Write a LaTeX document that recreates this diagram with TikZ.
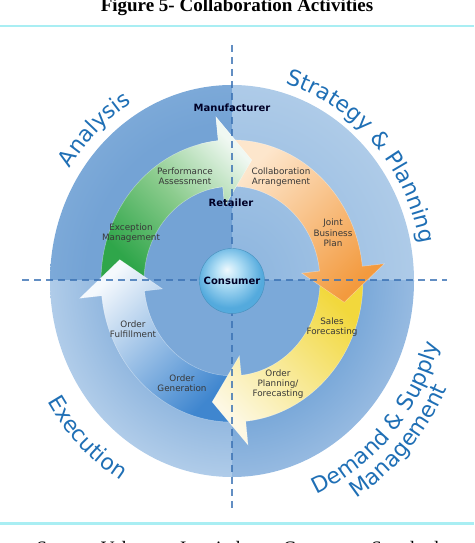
\documentclass[tikz,border=0pt]{standalone}
\usepackage{fontspec}
\setmainfont{Liberation Serif}
\newfontfamily\diagfont{DejaVu Sans}
\usetikzlibrary{decorations.text,positioning}

\definecolor{rulecyan}{HTML}{A9EEF3}
\definecolor{dashblue}{HTML}{3B72B4}
\definecolor{phaseblue}{HTML}{1F6FB5}
\definecolor{tlbase}{HTML}{74A3D5}
\definecolor{tlrim}{HTML}{7CA9D8}
\definecolor{trbase}{HTML}{8BB4DE}
\definecolor{trrim}{HTML}{AECBE8}
\definecolor{blbase}{HTML}{7BA8D8}
\definecolor{blrim}{HTML}{B0CCE9}
\definecolor{brbase}{HTML}{7BA9D9}
\definecolor{brrim}{HTML}{96BAE1}
\definecolor{greendk}{HTML}{2FA64A}
\definecolor{greenmd}{HTML}{8ACB8C}
\definecolor{greenlt}{HTML}{F0F8F2}
\definecolor{orangelt}{HTML}{FDE6CC}
\definecolor{orangedk}{HTML}{F39A3E}
\definecolor{yellowdk}{HTML}{F2D83C}
\definecolor{yellowlt}{HTML}{FDF8E4}
\definecolor{bluedk}{HTML}{3F86CF}
\definecolor{bluelt}{HTML}{F5F9FD}
\definecolor{ballhi}{HTML}{EEF8FD}
\definecolor{ballmid}{HTML}{B4E0F6}
\definecolor{ballrim}{HTML}{54AADD}

\pgfdeclareradialshading{quadtl}{\pgfpoint{0bp}{0bp}}{color(0bp)=(tlbase); color(20bp)=(tlbase); color(25bp)=(tlrim); color(50bp)=(tlrim)}
\pgfdeclareradialshading{quadtr}{\pgfpoint{0bp}{0bp}}{color(0bp)=(trbase); color(25bp)=(trrim); color(50bp)=(trrim)}
\pgfdeclareradialshading{quadbl}{\pgfpoint{0bp}{0bp}}{color(0bp)=(blbase); color(12bp)=(blbase); color(25bp)=(blrim); color(50bp)=(blrim)}
\pgfdeclareradialshading{quadbr}{\pgfpoint{0bp}{0bp}}{color(0bp)=(brbase); color(18bp)=(brbase); color(25bp)=(brrim); color(50bp)=(brrim)}
\pgfdeclareradialshading{consumerball}{\pgfpoint{-4bp}{9bp}}{color(0bp)=(ballhi); color(9bp)=(ballmid); color(25bp)=(ballrim); color(50bp)=(ballrim)}

\newcommand{\phasefont}{\diagfont\fontsize{22}{22}\selectfont}
% one curved arrow of the ring: #1 style, #2 angle of the head base
\newcommand{\ringarrow}[2]{%
  \shade[#1] ({#2+84}:131) arc[start angle={#2+84}, end angle={#2}, radius=131]
    -- (#2:153) -- ({#2-16}:114) -- (#2:70) -- (#2:88)
    arc[start angle={#2}, end angle={#2+84}, radius=88] -- cycle;}
% one quarter of the disc: #1 shading, #2 x sign, #3 y sign
\newcommand{\quarterdisc}[3]{%
  \begin{scope}
    \clip (0,0) rectangle (#2*200,#3*200);
    \path[shading=#1] (0,0) circle[radius=182];
  \end{scope}}

\begin{document}
\begin{tikzpicture}[x=1pt, y=1pt,
  actlabel/.style={font=\diagfont\fontsize{8.8}{10.3}\selectfont, align=center, text=black!78},
  partylabel/.style={font=\diagfont\bfseries\fontsize{10}{11}\selectfont, text=black!85!blue},
  quadline/.style={draw=dashblue, line width=1.4pt, dash pattern=on 7pt off 5pt, draw opacity=.8},
  cyanrule/.style={draw=rulecyan, line width=2.2pt},
  arrowedge/.style={draw=white, draw opacity=.4, line width=.5pt},
  greenfill/.style={top color=greenlt, bottom color=greendk, middle color=greenmd, shading angle=-45, arrowedge},
  orangefill/.style={top color=orangelt, bottom color=orangedk, shading angle=45, arrowedge},
  yellowfill/.style={top color=yellowdk, bottom color=yellowlt, shading angle=-45, arrowedge},
  bluefill/.style={top color=bluelt, bottom color=bluedk, shading angle=45, arrowedge},
  phaselabel/.style={decorate, decoration={text along path, text align=center, text color=phaseblue}}]
\useasboundingbox (0,0) rectangle (474,543);

% title and rules
\node[anchor=base, font=\bfseries\fontsize{19}{19}\selectfont] (title) at (237,531) {Figure 5- Collaboration Activities};
\coordinate (topruleL) at (0,517);
\coordinate (topruleR) at (474,517);
\coordinate (botruleL) at (0,19.5);
\coordinate (botruleR) at (474,19.5);
\draw[cyanrule] (topruleL) -- (topruleR);
\draw[cyanrule] (botruleL) -- (botruleR);

\begin{scope}[shift={(232,262)}, yscale=1.077]
  % the disc
  \quarterdisc{quadtl}{-1}{1}
  \quarterdisc{quadtr}{1}{1}
  \quarterdisc{quadbl}{-1}{-1}
  \quarterdisc{quadbr}{1}{-1}

  % the ring of arrows
  \ringarrow{greenfill}{96}
  \ringarrow{bluefill}{-174}
  \ringarrow{yellowfill}{-84}
  \ringarrow{orangefill}{6}
  \begin{scope}
    \clip (0,0) -- (104:200) arc[start angle=104, end angle=72, radius=200] -- cycle;
    \ringarrow{greenfill}{96}
  \end{scope}

  % the phases
  \path[phaselabel, decoration={text={|\phasefont|Analysis}}]
    (170:193) arc[start angle=170, end angle=97, radius=193];
  \path[phaselabel, decoration={text={|\phasefont|Strategy {\&} Planning}}]
    (87.5:191) arc[start angle=87.5, end angle=-2.5, radius=191];
  \path[phaselabel, decoration={text={|\phasefont|Execution}}]
    (181:216) arc[start angle=181, end angle=271, radius=216];
  \path[phaselabel, decoration={text={|\phasefont|Demand {\&} Supply}}]
    (-87:215) arc[start angle=-87, end angle=3, radius=215];
  \path[phaselabel, decoration={text={|\phasefont|Management}}]
    (-87.5:237) arc[start angle=-87.5, end angle=2.5, radius=237];
\end{scope}

% the dashed axes
\coordinate (hleft) at (22,263);
\coordinate (hright) at (447,263);
\coordinate (vtop) at (232,498);
\coordinate (vbottom) at (232,35);
\draw[quadline] (hleft) -- (hright);
\draw[quadline] (vtop) -- (vbottom);

% the centre
\node[circle, minimum size=65pt, inner sep=0pt, shading=consumerball, draw=ballrim!85!black, line width=.4pt, partylabel] (consumer) at (232,262) {Consumer};

% the names
\node[partylabel] (manufacturer) at (232,435) {Manufacturer};
\node[partylabel] (retailer) at (231,340) {Retailer};
\node[actlabel] (perf) at (185,367) {Performance\\Assessment};
\node[actlabel] (collab) at (281,366) {Collaboration\\Arrangement};
\node[actlabel] (jbp) at (333,310) {Joint\\Business\\Plan};
\node[actlabel] (exception) at (131,310) {Exception\\Management};
\node[actlabel] (sales) at (332,216) {Sales\\Forecasting};
\node[actlabel] (fulfil) at (133,214) {Order\\Fulfillment};
\node[actlabel] (generation) at (182,160) {Order\\Generation};
\node[actlabel] (planning) at (278,159) {Order\\Planning/\\Forecasting};

% the source
\node[anchor=base west, font=\fontsize{19}{19}\selectfont] (source) at (33,-11.5) {Source: Voluntary Interindustry Commerce Standards};
\end{tikzpicture}
\end{document}
